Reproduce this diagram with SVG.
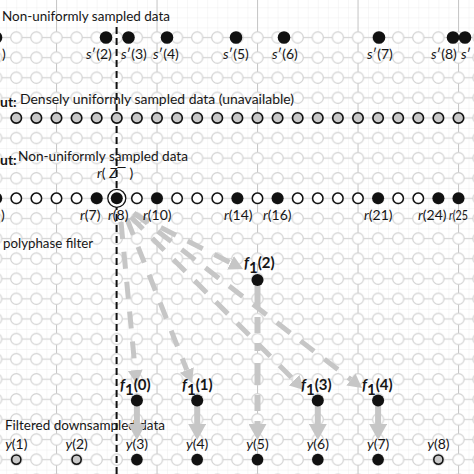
<svg xmlns="http://www.w3.org/2000/svg" width="474" height="474" viewBox="0 0 474 474">
<style>
.t{font-family:Lato,"Open Sans","DejaVu Sans",sans-serif;fill:#161616;font-size:14px}
.it{font-style:italic}
.b{font-weight:bold}
.fl{font-size:15px;font-weight:bold}
.dk{fill:#111}
.op{fill:#fff;stroke:#111;stroke-width:1.5}
.gr{fill:#c9c9c9;stroke:#111;stroke-width:1.6}
.arr{stroke:#c6c6c6;stroke-width:5;fill:none;stroke-dasharray:17 13}
.varr{stroke:#c6c6c6;stroke-width:6;fill:none}
</style>
<defs>
<pattern id="fine" patternUnits="userSpaceOnUse" x="6.25" y="7.35" width="10.05" height="10.05">
<path d="M0,0H10.05M0,0V10.05" stroke="#eaeaea" stroke-width="0.8" fill="none"/>
</pattern>
<pattern id="lat" patternUnits="userSpaceOnUse" x="6.25" y="27.45" width="20.1" height="20.1">
<path d="M0,10.05H20.1" stroke="#d8d8d8" stroke-width="1.2"/>
<circle cx="10.05" cy="10.05" r="5.6" fill="#fff" stroke="#d2d2d2" stroke-width="1.2"/>
</pattern>
<marker id="ah" viewBox="0 -8 14 16" refX="0" refY="0" markerWidth="14" markerHeight="16" markerUnits="userSpaceOnUse" orient="auto">
<path d="M0,-7.5L14,0L0,7.5Z" fill="#c6c6c6"/>
</marker>
<marker id="ah2" viewBox="0 -9 16 18" refX="0" refY="0" markerWidth="16" markerHeight="18" markerUnits="userSpaceOnUse" orient="auto">
<path d="M0,-9L16,0L0,9Z" fill="#c6c6c6"/>
</marker>
</defs>
<g id="background">
<rect width="474" height="474" fill="#fff"/>
<rect width="474" height="474" fill="url(#fine)"/>
<path d="M56.5,0V474M157,0V474M257.5,0V474M358,0V474M458.5,0V474" stroke="#c8c8c8" stroke-width="1"/>
<rect x="0" y="27.45" width="474" height="446.55" fill="url(#lat)"/>
</g>
<g id="texts" class="t">
<text x="2" y="21" textLength="168" lengthAdjust="spacingAndGlyphs">Non-uniformly sampled data</text>
<text x="0" y="107" class="t b">ut:</text>
<text x="20" y="104" textLength="274" lengthAdjust="spacingAndGlyphs">Densely uniformly sampled data (unavailable)</text>
<text x="0" y="165" class="t b">ut:</text>
<text x="18" y="161" textLength="170" lengthAdjust="spacingAndGlyphs">Non-uniformly sampled data</text>
<text x="3" y="248" textLength="90" lengthAdjust="spacingAndGlyphs">polyphase filter</text>
<text x="5" y="430" textLength="160" lengthAdjust="spacingAndGlyphs">Filtered downsampled data</text>
</g>
<g id="cut-line">
<path d="M116.6,27V474" stroke="#111" stroke-width="2" stroke-dasharray="7 4"/>
</g>
<g id="connectors">
<path class="arr" d="M121,222L135.2,370.1" marker-end="url(#ah)"/>
<path class="arr" d="M127,219L186.8,370" marker-end="url(#ah)"/>
<path class="arr" d="M134,214L230.5,262.7" marker-end="url(#ah)"/>
<path class="arr" d="M131,217L294.1,380.1" marker-end="url(#ah)"/>
<path class="arr" d="M134,213L350.9,379.5" marker-end="url(#ah)"/>
<path class="varr" d="M136.9,406V424" marker-end="url(#ah2)"/>
<path class="varr" d="M197.2,406V424" marker-end="url(#ah2)"/>
<path class="varr" d="M317.8,406V424" marker-end="url(#ah2)"/>
<path class="varr" d="M378.1,406V424" marker-end="url(#ah2)"/>
<path class="varr" d="M257.5,285V424" stroke-dasharray="22 10 16 10 8 12" marker-end="url(#ah2)"/>
</g>
<g id="row-s">
<circle class="dk" cx="-4" cy="37.5" r="6.3"/>
<circle class="dk" cx="106" cy="37.5" r="6.3"/>
<circle class="dk" cx="128.5" cy="37.5" r="6.3"/>
<circle class="dk" cx="167" cy="37.5" r="6.3"/>
<circle class="dk" cx="236" cy="37.5" r="6.3"/>
<circle class="dk" cx="284" cy="37.5" r="6.3"/>
<circle class="dk" cx="379" cy="37.5" r="6.3"/>
<circle class="dk" cx="453" cy="37.5" r="6.3"/>
<circle class="dk" cx="465" cy="37.5" r="6.3"/>
<g class="t">
<text x="2" y="59">)</text>
<text x="86" y="59"><tspan class="it">s</tspan>′(2)</text>
<text x="121" y="59"><tspan class="it">s</tspan>′(3)</text>
<text x="153" y="59"><tspan class="it">s</tspan>′(4)</text>
<text x="223" y="59"><tspan class="it">s</tspan>′(5)</text>
<text x="272" y="59"><tspan class="it">s</tspan>′(6)</text>
<text x="367" y="59"><tspan class="it">s</tspan>′(7)</text>
<text x="431" y="59"><tspan class="it">s</tspan>′(8)</text>
<text x="461" y="59"><tspan class="it">s</tspan>′</text>
</g>
</g>
<g id="row-dense">
<circle class="gr" cx="16.3" cy="117.9" r="5.2"/><circle class="gr" cx="36.4" cy="117.9" r="5.2"/><circle class="gr" cx="56.5" cy="117.9" r="5.2"/><circle class="gr" cx="76.6" cy="117.9" r="5.2"/><circle class="gr" cx="96.7" cy="117.9" r="5.2"/><circle class="gr" cx="116.8" cy="117.9" r="5.2"/><circle class="gr" cx="136.9" cy="117.9" r="5.2"/><circle class="gr" cx="157" cy="117.9" r="5.2"/><circle class="gr" cx="177.1" cy="117.9" r="5.2"/><circle class="gr" cx="197.2" cy="117.9" r="5.2"/><circle class="gr" cx="217.3" cy="117.9" r="5.2"/><circle class="gr" cx="237.4" cy="117.9" r="5.2"/><circle class="gr" cx="257.5" cy="117.9" r="5.2"/><circle class="gr" cx="277.6" cy="117.9" r="5.2"/><circle class="gr" cx="297.7" cy="117.9" r="5.2"/><circle class="gr" cx="317.8" cy="117.9" r="5.2"/><circle class="gr" cx="337.9" cy="117.9" r="5.2"/><circle class="gr" cx="358" cy="117.9" r="5.2"/><circle class="gr" cx="378.1" cy="117.9" r="5.2"/><circle class="gr" cx="398.2" cy="117.9" r="5.2"/><circle class="gr" cx="418.3" cy="117.9" r="5.2"/><circle class="gr" cx="438.4" cy="117.9" r="5.2"/><circle class="gr" cx="458.5" cy="117.9" r="5.2"/>
</g>
<g id="row-r">
<circle class="dk" cx="-3.8" cy="198.3" r="6"/>
<circle class="op" cx="16.3" cy="198.3" r="5.2"/><circle class="op" cx="36.4" cy="198.3" r="5.2"/><circle class="op" cx="56.5" cy="198.3" r="5.2"/><circle class="op" cx="76.6" cy="198.3" r="5.2"/>
<circle class="dk" cx="96.7" cy="198.3" r="6"/>
<circle cx="116.8" cy="198.3" r="9" fill="#fff" stroke="#111" stroke-width="1.3"/>
<circle class="dk" cx="116.8" cy="198.3" r="6"/>
<circle class="op" cx="136.9" cy="198.3" r="5.2"/>
<circle class="dk" cx="157" cy="198.3" r="6"/>
<circle class="op" cx="177.1" cy="198.3" r="5.2"/><circle class="op" cx="197.2" cy="198.3" r="5.2"/><circle class="op" cx="217.3" cy="198.3" r="5.2"/>
<circle class="dk" cx="237.4" cy="198.3" r="6"/>
<circle class="op" cx="257.5" cy="198.3" r="5.2"/>
<circle class="dk" cx="277.6" cy="198.3" r="6"/>
<circle class="op" cx="297.7" cy="198.3" r="5.2"/><circle class="op" cx="317.8" cy="198.3" r="5.2"/><circle class="op" cx="337.9" cy="198.3" r="5.2"/><circle class="op" cx="358" cy="198.3" r="5.2"/>
<circle class="dk" cx="378.1" cy="198.3" r="6"/>
<circle class="op" cx="398.2" cy="198.3" r="5.2"/><circle class="op" cx="418.3" cy="198.3" r="5.2"/>
<circle class="dk" cx="438.4" cy="198.3" r="6"/>
<circle class="dk" cx="458.5" cy="198.3" r="6"/>
<g class="t">
<text x="97" y="178"><tspan class="it">r</tspan>( <tspan class="it">Z</tspan>‾ )</text>
<text x="1" y="220">)</text>
<text x="80" y="220"><tspan class="it">r</tspan>(7)</text>
<text x="108" y="220"><tspan class="it">r</tspan>(8)</text>
<text x="143" y="220"><tspan class="it">r</tspan>(10)</text>
<text x="224" y="220"><tspan class="it">r</tspan>(14)</text>
<text x="263" y="220"><tspan class="it">r</tspan>(16)</text>
<text x="364" y="220"><tspan class="it">r</tspan>(21)</text>
<text x="418" y="220"><tspan class="it">r</tspan>(24)</text>
<text x="449" y="220" textLength="19" lengthAdjust="spacingAndGlyphs"><tspan class="it">r</tspan>(25</text>
</g>
</g>
<g id="f1-0"><circle class="dk" cx="136.9" cy="400.5" r="6"/><text class="t fl" x="120" y="390"><tspan class="it">f</tspan><tspan dy="5">1</tspan><tspan dy="-5">(0)</tspan></text></g>
<g id="f1-1"><circle class="dk" cx="197.2" cy="400.5" r="6"/><text class="t fl" x="182" y="390"><tspan class="it">f</tspan><tspan dy="5">1</tspan><tspan dy="-5">(1)</tspan></text></g>
<g id="f1-2"><circle class="dk" cx="257.5" cy="280" r="6"/><text class="t fl" x="244" y="268"><tspan class="it">f</tspan><tspan dy="5">1</tspan><tspan dy="-5">(2)</tspan></text></g>
<g id="f1-3"><circle class="dk" cx="317.8" cy="400.5" r="6"/><text class="t fl" x="301" y="390"><tspan class="it">f</tspan><tspan dy="5">1</tspan><tspan dy="-5">(3)</tspan></text></g>
<g id="f1-4"><circle class="dk" cx="378.1" cy="400.5" r="6"/><text class="t fl" x="362" y="390"><tspan class="it">f</tspan><tspan dy="5">1</tspan><tspan dy="-5">(4)</tspan></text></g>
<g id="row-y" class="t">
<circle class="gr" cx="16.3" cy="459.6" r="4.6"/><text x="16.3" y="449" text-anchor="middle"><tspan class="it">y</tspan>(1)</text>
<circle class="gr" cx="76.6" cy="459.6" r="4.6"/><text x="76.6" y="449" text-anchor="middle"><tspan class="it">y</tspan>(2)</text>
<circle class="dk" cx="136.9" cy="459.6" r="5.8"/><text x="136.9" y="449" text-anchor="middle"><tspan class="it">y</tspan>(3)</text>
<circle class="dk" cx="197.2" cy="459.6" r="5.8"/><text x="197.2" y="449" text-anchor="middle"><tspan class="it">y</tspan>(4)</text>
<circle class="dk" cx="257.5" cy="459.6" r="5.8"/><text x="257.5" y="449" text-anchor="middle"><tspan class="it">y</tspan>(5)</text>
<circle class="dk" cx="317.8" cy="459.6" r="5.8"/><text x="317.8" y="449" text-anchor="middle"><tspan class="it">y</tspan>(6)</text>
<circle class="dk" cx="378.1" cy="459.6" r="5.8"/><text x="378.1" y="449" text-anchor="middle"><tspan class="it">y</tspan>(7)</text>
<circle class="gr" cx="438.4" cy="459.6" r="4.6"/><text x="438.4" y="449" text-anchor="middle"><tspan class="it">y</tspan>(8)</text>
</g>
</svg>
